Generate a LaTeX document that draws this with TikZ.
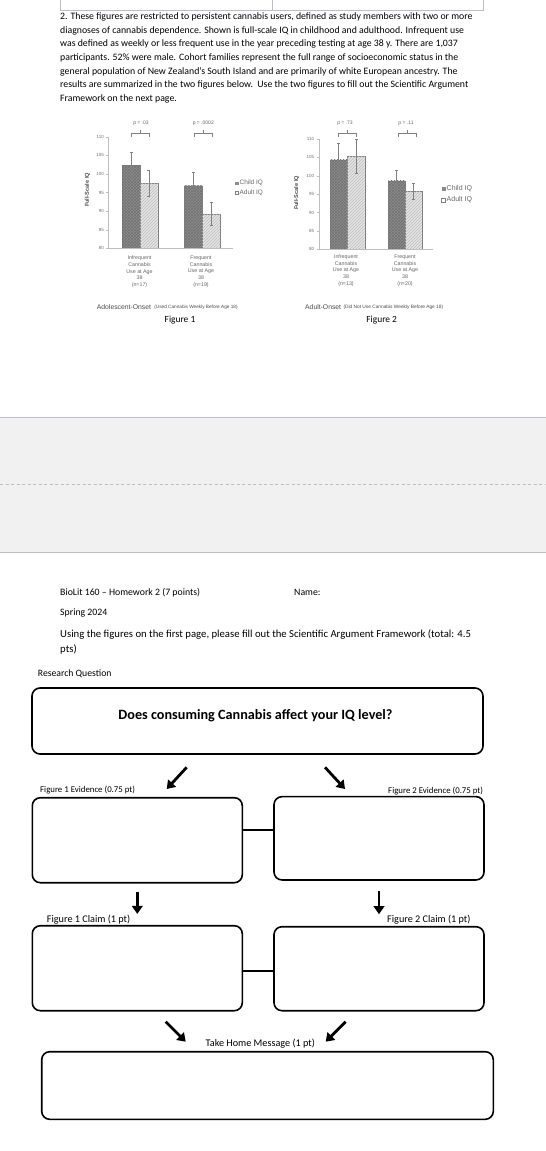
\documentclass[tikz,border=0pt]{standalone}
\usepackage{fontspec}
\setmainfont{Carlito}
\newfontfamily\chartfont{Liberation Sans}
\usetikzlibrary{arrows.meta,patterns}

\definecolor{rulegray}{HTML}{BDBDC3}
\definecolor{bandgray}{HTML}{F1F1F1}
\definecolor{chartgray}{HTML}{808080}
\definecolor{childfill}{HTML}{8C8C8C}
\definecolor{adultfill}{HTML}{E4E4E4}

\begin{document}
\begin{tikzpicture}[x=1pt,y=-1pt,
    txt/.style={inner sep=0pt,anchor=west,font=\fontsize{9.8}{12}\selectfont},
    lbl/.style={inner sep=0pt,font=\fontsize{10.2}{12}\selectfont},
    tick/.style={inner sep=0pt,anchor=east,text=black!55,font=\chartfont\fontsize{4.5}{5}\selectfont},
    cat/.style={inner sep=0pt,align=center,text=black!60,font=\chartfont\fontsize{5.3}{6.7}\selectfont},
    pval/.style={inner sep=0pt,text=black!60,font=\chartfont\fontsize{5}{6}\selectfont},
    leg/.style={inner sep=0pt,anchor=west,text=black!60,font=\chartfont\fontsize{6.4}{8}\selectfont},
    child/.style={draw=chartgray,line width=0.4pt,fill=childfill,postaction={pattern=crosshatch,pattern color=black!55}},
    adult/.style={draw=chartgray,line width=0.4pt,fill=adultfill,postaction={pattern=north east lines,pattern color=black!25}},
    err/.style={chartgray,line width=0.5pt,{Bar[width=3pt]}-{Bar[width=3pt]}},
    box/.style={draw,line width=1.6pt,rounded corners=8pt,inner sep=0pt},
    bigarrow/.style={line width=2.8pt,-{Triangle[length=8pt,width=10.5pt]}}]
  \useasboundingbox (0,0) rectangle (546,1151);
  \fill[white] (0,0) rectangle (546,1151);

  \draw[rulegray] (60,0) -- (60,10) -- (483,10) -- (483,0);
  \draw[rulegray] (272,0) -- (272,10);

  \node[txt] (l1) at (60,17) {2. These figures are restricted to persistent cannabis users, defined as study members with two or more};
  \node[txt] (l2) at (60,30.6) {diagnoses of cannabis dependence. Shown is full-scale IQ in childhood and adulthood. Infrequent use};
  \node[txt] (l3) at (60,44.2) {was defined as weekly or less frequent use in the year preceding testing at age 38 y. There are 1,037};
  \node[txt] (l4) at (60,57.8) {participants. 52\% were male. Cohort families represent the full range of socioeconomic status in the};
  \node[txt] (l5) at (60,71.4) {general population of New Zealand's South Island and are primarily of white European ancestry. The};
  \node[txt] (l6) at (60,85) {results are summarized in the two figures below.\ \ Use the two figures to fill out the Scientific Argument};
  \node[txt] (l7) at (60,98.6) {Framework on the next page.};

  \begin{scope}[shift={(108pt,-248.3pt)},y=3.72pt]
    \draw[child] (14,0) rectangle (32,22.3);
    \draw[adult] (32,0) rectangle (49.7,17.5);
    \draw[child] (76.3,0) rectangle (94.3,16.8);
    \draw[adult] (94.3,0) rectangle (112,9.2);
    \draw[err] (23,18.6) -- (23,26);
    \draw[err] (40.8,14) -- (40.8,21);
    \draw[err] (85.3,13.4) -- (85.3,20.4);
    \draw[err] (103.1,6) -- (103.1,12.5);
    \draw[rulegray] (0,30) -- (0,0) -- (125,0);
    \foreach \v/\t in {0/80,5/85,10/90,15/95,20/100,25/105,30/110} {
      \draw[rulegray] (-2,\v) -- (0,\v);
      \node[tick] (fa\t) at (-4,\v) {\t};
    }
  \end{scope}
  \node[rotate=90,inner sep=0pt,text=black!70,font=\chartfont\bfseries\fontsize{5.6}{7}\selectfont] (fay) at (87.3,190) {Full-Scale IQ};
  \node[pval] (pa1) at (141,123) {p = .03};
  \draw[chartgray] (131,137) -- (131,133) -- (149.3,133) -- (149.3,137) (140.2,133) -- (140.2,130);
  \node[pval] (pa2) at (203.3,123) {p = .0002};
  \draw[chartgray] (194,137) -- (194,133) -- (212.3,133) -- (212.3,137) (203.2,133) -- (203.2,130);
  \fill[childfill] (235,181.5) rectangle (238.5,185);
  \node[leg] (fak1) at (239.5,183.2) {Child IQ};
  \draw[chartgray,line width=0.3pt] (235,191) rectangle (238.5,194.5);
  \node[leg] (fak2) at (239.5,192.7) {Adult IQ};
  \node[cat] (fac1) at (139.5,271.7) {Infrequent\\Cannabis\\Use at Age\\38\\(n=17)};
  \node[cat] (fac2) at (201,271.7) {Frequent\\Cannabis\\Use at Age\\38\\(n=19)};
  \node[inner sep=0pt,anchor=west,text=black!70,font=\chartfont\fontsize{6.8}{8}\selectfont] (fas) at (96.7,307) {Adolescent-Onset};
  \node[inner sep=0pt,anchor=west,text=black!70,font=\chartfont\fontsize{4.7}{5}\selectfont] (fan) at ([xshift=3pt]fas.east) {(Used Cannabis Weekly Before Age 18)};
  \node[inner sep=0pt,font=\fontsize{9.4}{11}\selectfont] (fig1) at (180,320) {Figure 1};

  \begin{scope}[shift={(319.3pt,-249.3pt)},y=3.677pt]
    \draw[child] (10.7,0) rectangle (28,24.3);
    \draw[adult] (28,0) rectangle (45.4,25.2);
    \draw[child] (69,0) rectangle (85.7,18.6);
    \draw[adult] (85.7,0) rectangle (102.4,15.8);
    \draw[err] (19.3,19.7) -- (19.3,28.9);
    \draw[err] (36.7,20.5) -- (36.7,30);
    \draw[err] (77.3,15.6) -- (77.3,21.6);
    \draw[err] (94,13.6) -- (94,17.9);
    \draw[rulegray] (0,30) -- (0,0) -- (113.7,0);
    \foreach \v/\t in {0/80,5/85,10/90,15/95,20/100,25/105,30/110} {
      \draw[rulegray] (-2,\v) -- (0,\v);
      \node[tick] (fb\t) at (-5,\v) {\t};
    }
  \end{scope}
  \node[rotate=90,inner sep=0pt,text=black!70,font=\chartfont\bfseries\fontsize{5.6}{7}\selectfont] (fby) at (296.7,193) {Full-Scale IQ};
  \node[pval] (pb1) at (345,123) {p = .73};
  \draw[chartgray] (337.7,137) -- (337.7,133) -- (356,133) -- (356,137) (346.8,133) -- (346.8,130);
  \node[pval] (pb2) at (406,123) {p = .11};
  \draw[chartgray] (397.7,137) -- (397.7,133) -- (416,133) -- (416,137) (406.8,133) -- (406.8,130);
  \fill[childfill] (441.5,186.5) rectangle (445.5,190.5);
  \node[leg,font=\chartfont\fontsize{7}{8}\selectfont] (fbk1) at (446.5,188.5) {Child IQ};
  \draw[chartgray,line width=0.3pt] (441.5,198) rectangle (445.5,202);
  \node[leg,font=\chartfont\fontsize{7}{8}\selectfont] (fbk2) at (446.5,200) {Adult IQ};
  \node[cat] (fbc1) at (346,270.5) {Infrequent\\Cannabis\\Use at Age\\38\\(n=13)};
  \node[cat] (fbc2) at (405,270.5) {Frequent\\Cannabis\\Use at Age\\38\\(n=20)};
  \node[inner sep=0pt,anchor=west,text=black!70,font=\chartfont\fontsize{6.8}{8}\selectfont] (fbs) at (305,307) {Adult-Onset};
  \node[inner sep=0pt,anchor=west,text=black!70,font=\chartfont\fontsize{4.8}{5}\selectfont] (fbn) at ([xshift=2pt]fbs.east) {(Did Not Use Cannabis Weekly Before Age 18)};
  \node[inner sep=0pt,font=\fontsize{9.4}{11}\selectfont] (fig2) at (381.7,320) {Figure 2};

  \fill[bandgray] (0,417) rectangle (546,552);
  \draw[rulegray] (0,417) -- (546,417) (0,552) -- (546,552);
  \draw[rulegray,dash pattern=on 3pt off 2.5pt] (0,484.3) -- (546,484.3);

  \node[txt] (hw) at (60,592.5) {BioLit 160 -- Homework 2 (7 points)};
  \node[txt] (nm) at (294,592.5) {Name:};
  \node[txt] (sp) at (60,613.3) {Spring 2024};
  \node[txt,font=\fontsize{10.7}{13}\selectfont] (us1) at (60,635) {Using the figures on the first page, please fill out the Scientific Argument Framework (total: 4.5};
  \node[txt,font=\fontsize{10.7}{13}\selectfont] (us2) at (60,649) {pts)};
  \node[lbl,anchor=west,font=\fontsize{9.7}{12}\selectfont] (rql) at (37.7,674) {Research Question};

  \node[box,minimum width=451pt,minimum height=66pt] (rq) at (257.5,721) {};
  \node[inner sep=0pt,font=\bfseries\fontsize{14.2}{17}\selectfont] (rqt) at (255.5,716) {Does consuming Cannabis affect your IQ level?};

  \node[box,minimum width=210pt,minimum height=85pt] (ev1) at (137.3,840.2) {};
  \node[box,minimum width=210pt,minimum height=83.3pt] (ev2) at (379,838.3) {};
  \node[box,minimum width=210pt,minimum height=85pt] (cl1) at (137.3,968.2) {};
  \node[box,minimum width=210pt,minimum height=84pt] (cl2) at (379,968.7) {};
  \node[box,minimum width=451.6pt,minimum height=67.6pt] (thm) at (267.5,1085.5) {};

  \node[lbl,anchor=west,font=\fontsize{8.8}{11}\selectfont] (ev1l) at (40,790.3) {Figure 1 Evidence (0.75 pt)};
  \node[lbl,anchor=east,font=\fontsize{8.8}{11}\selectfont] (ev2l) at (483.3,791) {Figure 2 Evidence (0.75 pt)};
  \node[lbl,anchor=west] (cl1l) at (46.7,920) {Figure 1 Claim (1 pt)};
  \node[lbl,anchor=east] (cl2l) at (470.7,920) {Figure 2 Claim (1 pt)};
  \node[lbl] (thml) at (260.3,1043.3) {Take Home Message (1 pt)};

  \draw[line width=1.6pt] ([yshift=10pt]ev1.east) -- ([yshift=10pt]ev1.east -| ev2.west);
  \draw[line width=1.6pt] ([yshift=-2.5pt]cl1.east) -- ([yshift=-2.5pt]cl1.east -| cl2.west);

  \coordinate (a1s) at (186.7,767.3);
  \coordinate (a1e) at (166.7,789);
  \coordinate (a2s) at (325,767.3);
  \coordinate (a2e) at (345,789);
  \coordinate (a3s) at (165.7,1021.7);
  \coordinate (a3e) at (185.7,1041.7);
  \coordinate (a4s) at (345.7,1021.7);
  \coordinate (a4e) at (325.7,1041.7);
  \draw[bigarrow] (a1s) -- (a1e);
  \draw[bigarrow] (a2s) -- (a2e);
  \draw[bigarrow] ([yshift=-8pt]ev1.south) -- ([yshift=11pt]cl1.north);
  \draw[bigarrow] ([yshift=-10.7pt]ev2.south) -- ([yshift=11.7pt]cl2.north);
  \draw[bigarrow] (a3s) -- (a3e);
  \draw[bigarrow] (a4s) -- (a4e);
\end{tikzpicture}
\end{document}
